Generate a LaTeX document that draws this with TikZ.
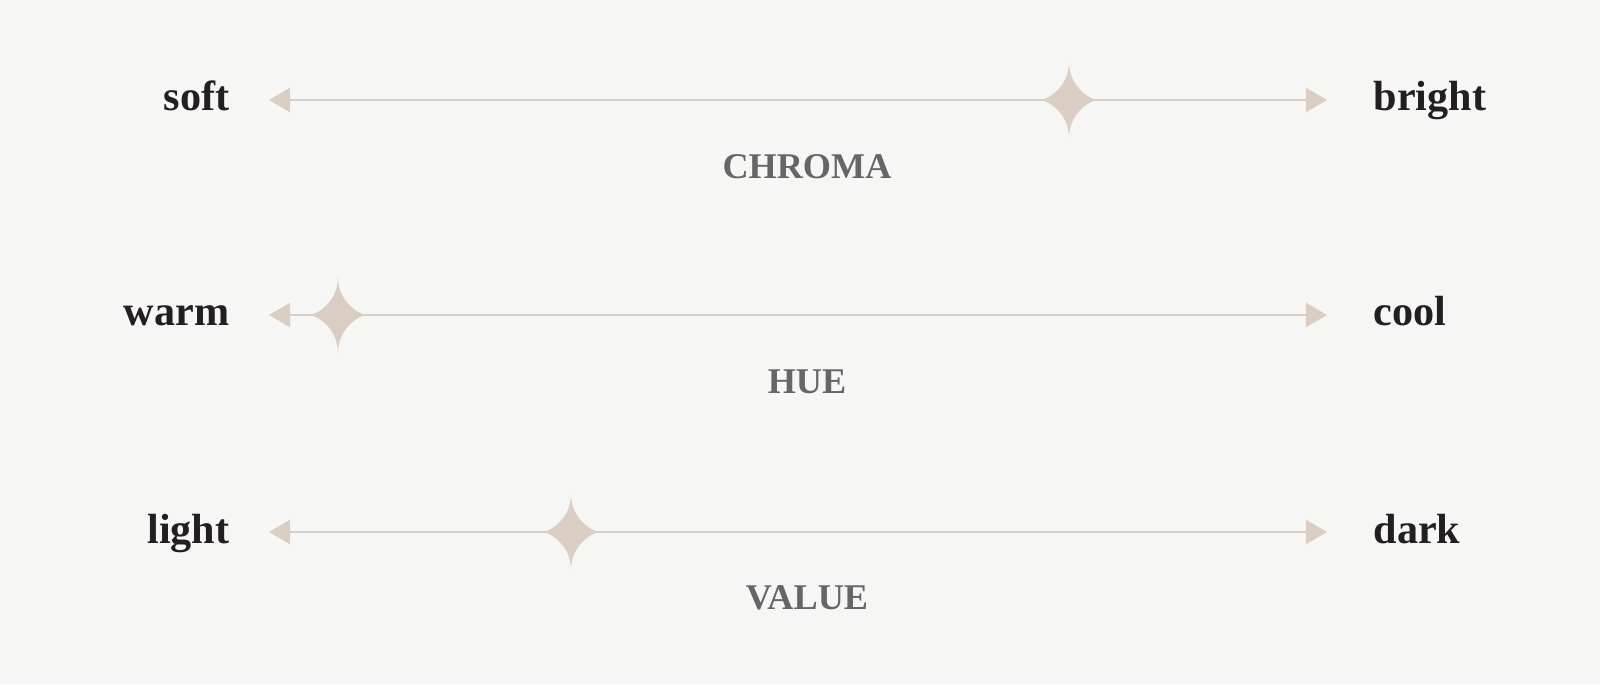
\documentclass[tikz,border=0pt]{standalone}
\usepackage{fontspec}
\setmainfont{Liberation Serif}
\usetikzlibrary{arrows.meta}
\definecolor{paper}{HTML}{F6F6F4}
\definecolor{sand}{HTML}{DACEC4}
\definecolor{ink}{HTML}{231F20}
\definecolor{slate}{HTML}{666666}
\begin{document}
\begin{tikzpicture}[>={Triangle[length=6pt,width=6.8pt]}]
\tikzstyle{word}=[inner sep=0pt,text=ink,font=\fontsize{12}{14}\selectfont\bfseries]
\tikzstyle{axis}=[inner sep=0pt,text=slate,font=\fontsize{10.3}{12}\selectfont\bfseries]
\tikzstyle{ruler}=[draw=sand,line width=0.8pt,<->]
\tikzset{sparkle/.pic={\fill[sand] (0,0.38) .. controls (0,0.14) and (0.20,0) .. (0.30,0)
  .. controls (0.20,0) and (0,-0.14) .. (0,-0.38)
  .. controls (0,-0.14) and (-0.20,0) .. (-0.30,0)
  .. controls (-0.20,0) and (0,0.14) .. (0,0.38) -- cycle;}}
\fill[paper] (0,0) rectangle (16,6.84);
\useasboundingbox (0,0) rectangle (16,6.84);
% chroma
\node[word,anchor=base east] (soft) at (2.30,5.73) {soft};
\node[word,anchor=base west] (bright) at (13.73,5.73) {bright};
\draw[ruler,shorten <=0.39cm,shorten >=0.46cm] (soft.east |- 0,5.84) -- (bright.west |- 0,5.84);
\pic at (10.69,5.84) {sparkle};
\node[axis] (CH) at (8.07,5.17) {CHROMA};
% hue
\node[word,anchor=base east] (warm) at (2.30,3.58) {warm};
\node[word,anchor=base west] (cool) at (13.73,3.58) {cool};
\draw[ruler,shorten <=0.39cm,shorten >=0.46cm] (warm.east |- 0,3.69) -- (cool.west |- 0,3.69);
\pic at (3.38,3.69) {sparkle};
\node[axis] (HU) at (8.07,3.02) {HUE};
% value
\node[word,anchor=base east] (light) at (2.30,1.41) {light};
\node[word,anchor=base west] (dark) at (13.73,1.41) {dark};
\draw[ruler,shorten <=0.39cm,shorten >=0.46cm] (light.east |- 0,1.52) -- (dark.west |- 0,1.52);
\pic at (5.71,1.52) {sparkle};
\node[axis] (VA) at (8.07,0.86) {VALUE};
\end{tikzpicture}
\end{document}
